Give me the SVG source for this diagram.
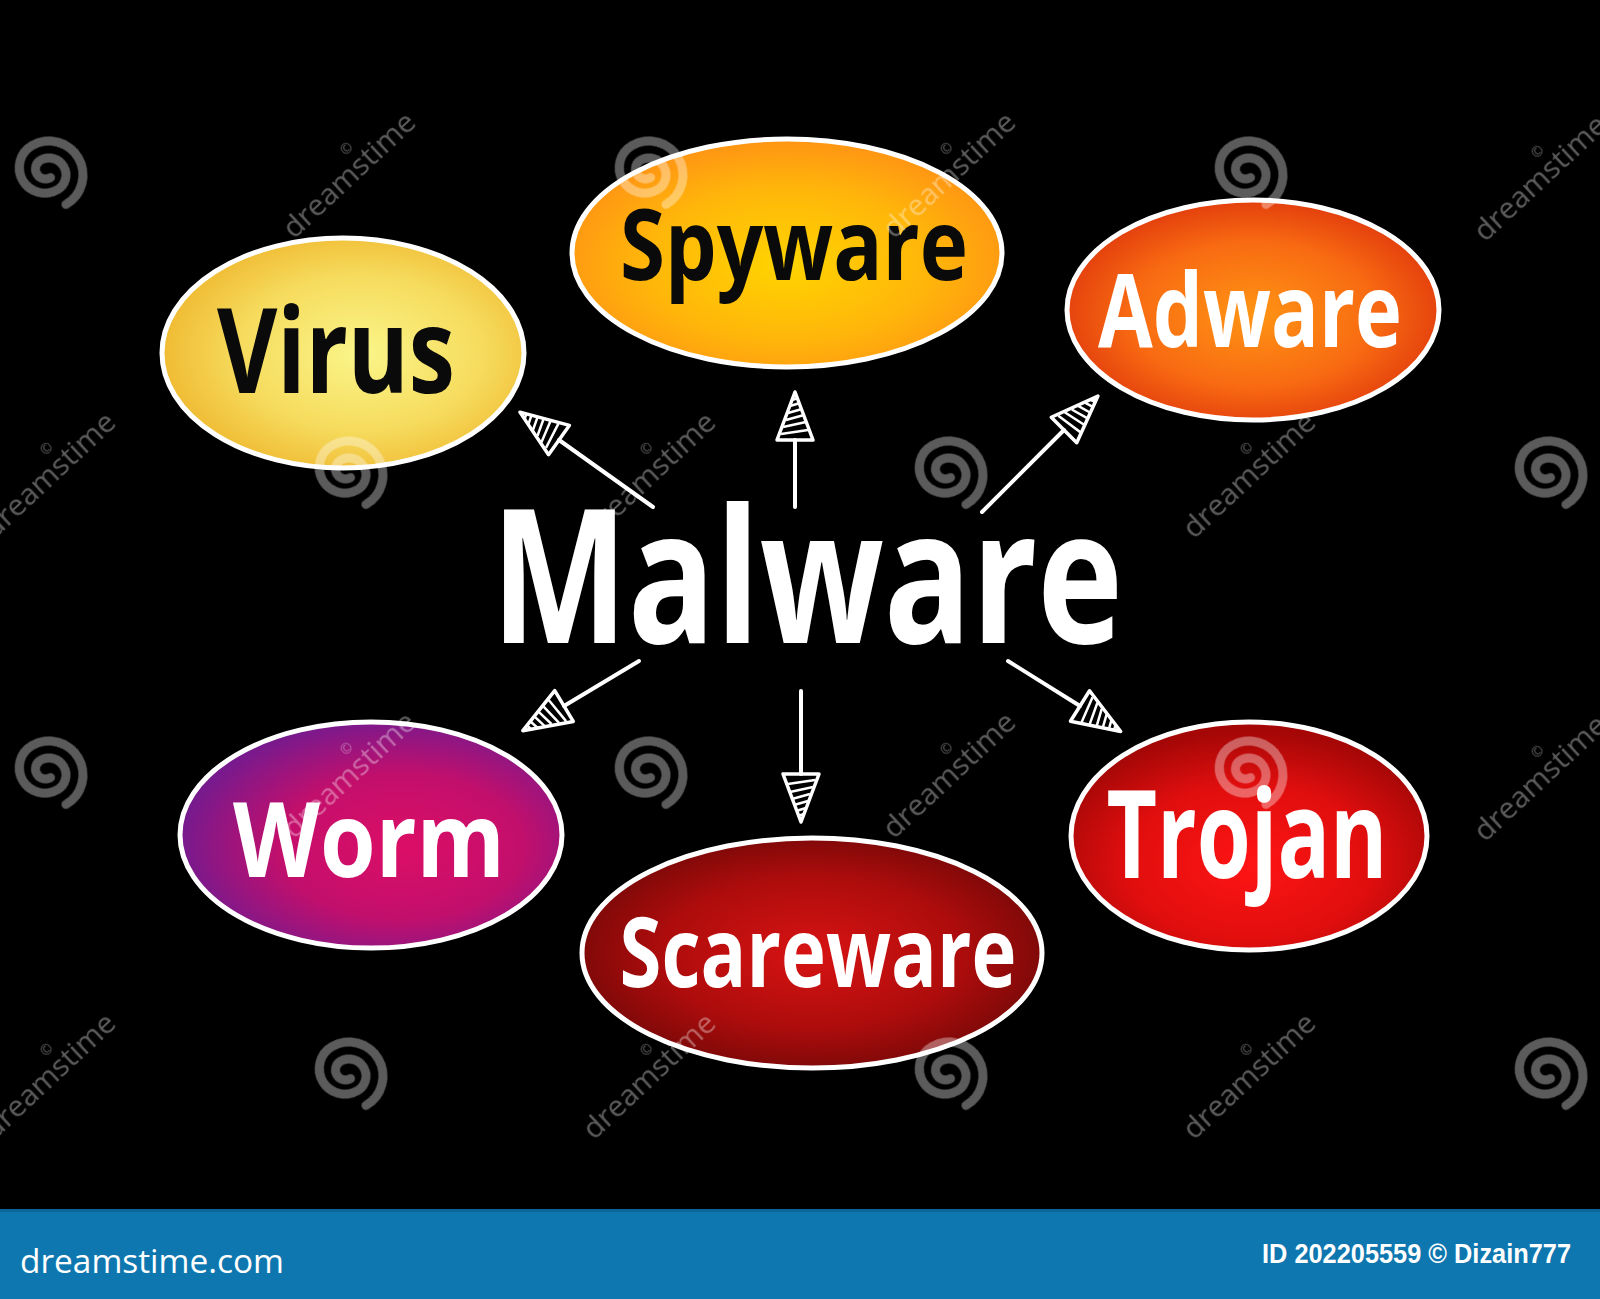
<svg xmlns="http://www.w3.org/2000/svg" width="1600" height="1299" viewBox="0 0 1600 1299">
<style>
.node-shape{stroke:#ffffff;stroke-width:5}
.lbl{font-family:"Open Sans","DejaVu Sans",sans-serif;font-weight:700;text-anchor:middle}
.dark{fill:#0a0a0a}
.light{fill:#ffffff}
.conn{stroke:#ffffff;stroke-width:4;stroke-linecap:round;fill:none}
.wm{fill:#ffffff;opacity:0.36}
.wmt{font-family:"Open Sans","DejaVu Sans",sans-serif;font-size:30px;text-anchor:middle}
.wms{fill:none;stroke:#ffffff;stroke-width:9;stroke-linecap:round}
</style>
<defs>
<radialGradient id="gVirus" cx="55%" cy="50%" r="55%"><stop offset="0" stop-color="#faf58a"/><stop offset="0.6" stop-color="#f6dc5e"/><stop offset="1" stop-color="#f0bb33"/></radialGradient>
<radialGradient id="gSpy" cx="50%" cy="55%" r="55%"><stop offset="0" stop-color="#ffd400"/><stop offset="0.6" stop-color="#ffb60a"/><stop offset="1" stop-color="#ff9414"/></radialGradient>
<radialGradient id="gAd" cx="50%" cy="52%" r="55%"><stop offset="0" stop-color="#ff9414"/><stop offset="0.6" stop-color="#f86a12"/><stop offset="1" stop-color="#e0380c"/></radialGradient>
<radialGradient id="gWorm" cx="58%" cy="55%" r="58%"><stop offset="0" stop-color="#dc0e66"/><stop offset="0.55" stop-color="#c20f6c"/><stop offset="1" stop-color="#761a8e"/></radialGradient>
<radialGradient id="gScare" cx="50%" cy="50%" r="55%"><stop offset="0" stop-color="#d81313"/><stop offset="0.6" stop-color="#ad0c0c"/><stop offset="1" stop-color="#740808"/></radialGradient>
<radialGradient id="gTroj" cx="50%" cy="62%" r="58%"><stop offset="0" stop-color="#ff1414"/><stop offset="0.6" stop-color="#e00e0e"/><stop offset="1" stop-color="#a50707"/></radialGradient>
<marker id="head" markerUnits="userSpaceOnUse" orient="auto" viewBox="-4 -24 60 48" markerWidth="60" markerHeight="48" refX="0" refY="0" overflow="visible">
<path d="M0,-18 L48,0 L0,18 Z" fill="none" stroke="#ffffff" stroke-width="3.5" stroke-linejoin="round"/>
<path d="M6,-14 L10,13 M13,-12 L18,11 M20,-9 L25,9 M27,-7 L31,7 M34,-5 L37,5 M40,-3 L42,3" stroke="#ffffff" stroke-width="2.5" fill="none"/>
</marker>
<g id="spiral">
<path class="wms" d="M34,0 A34,34 0 0 0 -34,0 A25.5,25.5 0 0 0 17,0 A17,17 0 0 0 -17,0 A10,10 0 0 0 3,0"/>
</g>
<g id="wmtext">
<text class="wmt" x="0" y="10">dreamstime</text>
<text class="wmt" x="16" y="-16" style="font-size:14px">©</text>
</g>
</defs>

<rect x="0" y="0" width="1600" height="1299" fill="#000000"/>

<g id="connectors">
<path class="conn" d="M653,507 L559,440" marker-end="url(#head)"/>
<path class="conn" d="M795,507 L795,440" marker-end="url(#head)"/>
<path class="conn" d="M982,512 L1064,430" marker-end="url(#head)"/>
<path class="conn" d="M639,661 L564,706" marker-end="url(#head)"/>
<path class="conn" d="M801,691 L801,774" marker-end="url(#head)"/>
<path class="conn" d="M1008,661 L1080,706" marker-end="url(#head)"/>
</g>

<g id="node-malware">
<text class="lbl light" x="807" y="643" font-size="186" textLength="632" lengthAdjust="spacingAndGlyphs">Malware</text>
</g>

<g id="node-virus">
<ellipse class="node-shape" cx="343" cy="353" rx="181" ry="115" fill="url(#gVirus)"/>
<text class="lbl dark" x="336" y="393" font-size="118" textLength="238" lengthAdjust="spacingAndGlyphs">Virus</text>
</g>

<g id="node-spyware">
<ellipse class="node-shape" cx="787" cy="253" rx="215" ry="114" fill="url(#gSpy)"/>
<text class="lbl dark" x="794" y="280" font-size="98" textLength="348" lengthAdjust="spacingAndGlyphs">Spyware</text>
</g>

<g id="node-adware">
<ellipse class="node-shape" cx="1253" cy="310" rx="186" ry="110" fill="url(#gAd)"/>
<text class="lbl light" x="1250" y="347" font-size="102" textLength="304" lengthAdjust="spacingAndGlyphs">Adware</text>
</g>

<g id="node-worm">
<ellipse class="node-shape" cx="371" cy="835" rx="191" ry="113" fill="url(#gWorm)"/>
<text class="lbl light" x="369" y="877" font-size="104" textLength="272" lengthAdjust="spacingAndGlyphs">Worm</text>
</g>

<g id="node-scareware">
<ellipse class="node-shape" cx="812" cy="953" rx="230" ry="115" fill="url(#gScare)"/>
<text class="lbl light" x="818" y="987" font-size="96" textLength="397" lengthAdjust="spacingAndGlyphs">Scareware</text>
</g>

<g id="node-trojan">
<ellipse class="node-shape" cx="1249" cy="836" rx="178" ry="114" fill="url(#gTroj)"/>
<text class="lbl light" x="1247" y="878" font-size="122" textLength="281" lengthAdjust="spacingAndGlyphs">Trojan</text>
</g>

<g id="watermark" class="wm">
<use href="#spiral" transform="translate(49,175) rotate(60)"/>
<use href="#spiral" transform="translate(649,175) rotate(60)"/>
<use href="#spiral" transform="translate(1249,175) rotate(60)"/>
<use href="#spiral" transform="translate(349,475) rotate(60)"/>
<use href="#spiral" transform="translate(949,475) rotate(60)"/>
<use href="#spiral" transform="translate(1549,475) rotate(60)"/>
<use href="#spiral" transform="translate(49,775) rotate(60)"/>
<use href="#spiral" transform="translate(649,775) rotate(60)"/>
<use href="#spiral" transform="translate(1249,775) rotate(60)"/>
<use href="#spiral" transform="translate(349,1076) rotate(60)"/>
<use href="#spiral" transform="translate(949,1076) rotate(60)"/>
<use href="#spiral" transform="translate(1549,1076) rotate(60)"/>
<use href="#wmtext" transform="translate(349,175) rotate(-43)"/>
<use href="#wmtext" transform="translate(949,175) rotate(-43)"/>
<use href="#wmtext" transform="translate(1540,178) rotate(-43)"/>
<use href="#wmtext" transform="translate(49,475) rotate(-43)"/>
<use href="#wmtext" transform="translate(649,475) rotate(-43)"/>
<use href="#wmtext" transform="translate(1249,475) rotate(-43)"/>
<use href="#wmtext" transform="translate(349,775) rotate(-43)"/>
<use href="#wmtext" transform="translate(949,775) rotate(-43)"/>
<use href="#wmtext" transform="translate(1540,778) rotate(-43)"/>
<use href="#wmtext" transform="translate(49,1076) rotate(-43)"/>
<use href="#wmtext" transform="translate(649,1076) rotate(-43)"/>
<use href="#wmtext" transform="translate(1249,1076) rotate(-43)"/>
</g>

<g id="footer">
<rect x="0" y="1209" width="1600" height="90" fill="#0f77b0"/>
<rect x="0" y="1209" width="1600" height="3" fill="#0b649a"/>
<text x="20" y="1273" font-family="Open Sans, DejaVu Sans, sans-serif" font-size="33" fill="#ffffff" textLength="264" lengthAdjust="spacingAndGlyphs">dreamstime.com</text>
<text x="1571" y="1263" font-family="Liberation Sans, Arial, sans-serif" font-weight="700" font-size="27" fill="#ffffff" text-anchor="end" textLength="309" lengthAdjust="spacingAndGlyphs">ID 202205559 © Dizain777</text>
</g>
</svg>
